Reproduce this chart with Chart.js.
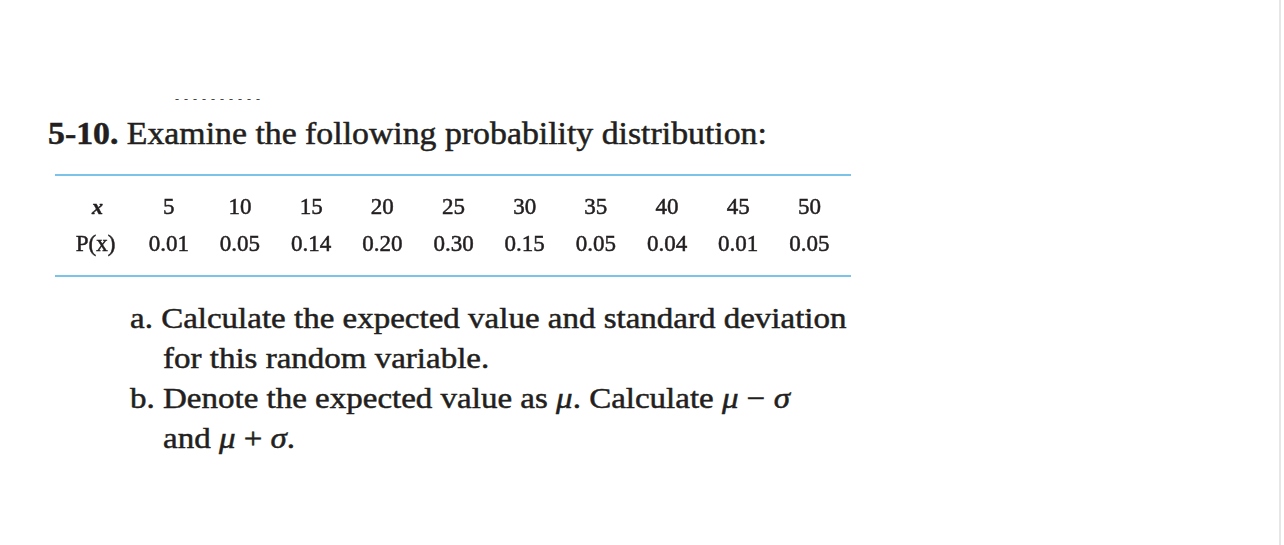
<!DOCTYPE html>
<html><head><meta charset="utf-8">
<script src="https://cdn.jsdelivr.net/npm/chart.js@4"></script>
<style>
body{margin:0;width:1284px;height:545px;background:#fff;position:relative;overflow:hidden;font-family:"Liberation Serif","DejaVu Serif",serif;color:#231f20}
.t{position:absolute;white-space:nowrap;-webkit-text-stroke:0.5px #231f20;transform-origin:0 0}
.rule{position:absolute;left:55px;width:796px;height:2px;background:#7cc3ea}
#wrap{position:absolute;left:62px;top:180px;width:783px;height:90px}
i{font-style:italic}
</style></head><body>
<div class="t" style="left:175px;top:92px;font-size:12px;letter-spacing:1px;color:#444;-webkit-text-stroke:0">- - - - - - - - - -</div>
<div class="t" style="left:48px;top:116px;font-size:31px;transform:scaleX(1.09)"><b>5-10.</b> Examine the following probability distribution:</div>
<div class="rule" style="top:174px"></div>
<div id="wrap"><canvas id="c"></canvas></div>
<div class="rule" style="top:275px"></div>
<div class="t" style="left:130px;top:298px;font-size:30px;line-height:40px;transform:scaleX(1.1)">a.&nbsp;Calculate the expected value and standard deviation<br>&nbsp;&nbsp;&nbsp;&nbsp;for this random variable.<br>b.&nbsp;Denote the expected value as <i>μ</i>. Calculate <i>μ</i> − <i>σ</i><br>&nbsp;&nbsp;&nbsp;&nbsp;and <i>μ</i> + <i>σ</i>.</div>
<div style="position:absolute;left:1279px;top:0;width:2px;height:545px;background:#e6e6e6"></div>
<script>
const xValues=['5','10','15','20','25','30','35','40','45','50'];
const probLabels=['0.01','0.05','0.14','0.20','0.30','0.15','0.05','0.04','0.01','0.05'];
const probs=[0.01,0.05,0.14,0.20,0.30,0.15,0.05,0.04,0.01,0.05];
const categories=['x'].concat(xValues);
const tablePlugin={id:'tbl',afterDraw(ch){
 const c=ch.ctx,s=ch.scales.x;c.save();c.fillStyle='#231f20';c.strokeStyle='#231f20';c.lineWidth=0.5;c.textAlign='center';c.textBaseline='middle';
 const put=(t,x,y)=>{c.fillText(t,x,y);c.strokeText(t,x,y);};
 categories.forEach((lab,i)=>{const px=s.getPixelForValue(i);
  if(i===0){c.font='bold italic 22px "Liberation Serif"';put('x',px,28);
   c.font='23px "Liberation Serif"';put('P(x)',px-2,65);}
  else{c.font='23px "Liberation Serif"';put(lab,px,28);put(probLabels[i-1],px,65);}
 });c.restore();}};
new Chart(document.getElementById('c'),{type:'line',
 data:{labels:categories,datasets:[{data:[null].concat(probs),pointRadius:0,showLine:false}]},
 options:{responsive:true,maintainAspectRatio:false,animation:false,layout:{padding:0},
  plugins:{legend:{display:false},tooltip:{enabled:false}},
  scales:{x:{display:false,offset:true},y:{display:false,min:0,max:1}}},
 plugins:[tablePlugin]});
</script></body></html>
